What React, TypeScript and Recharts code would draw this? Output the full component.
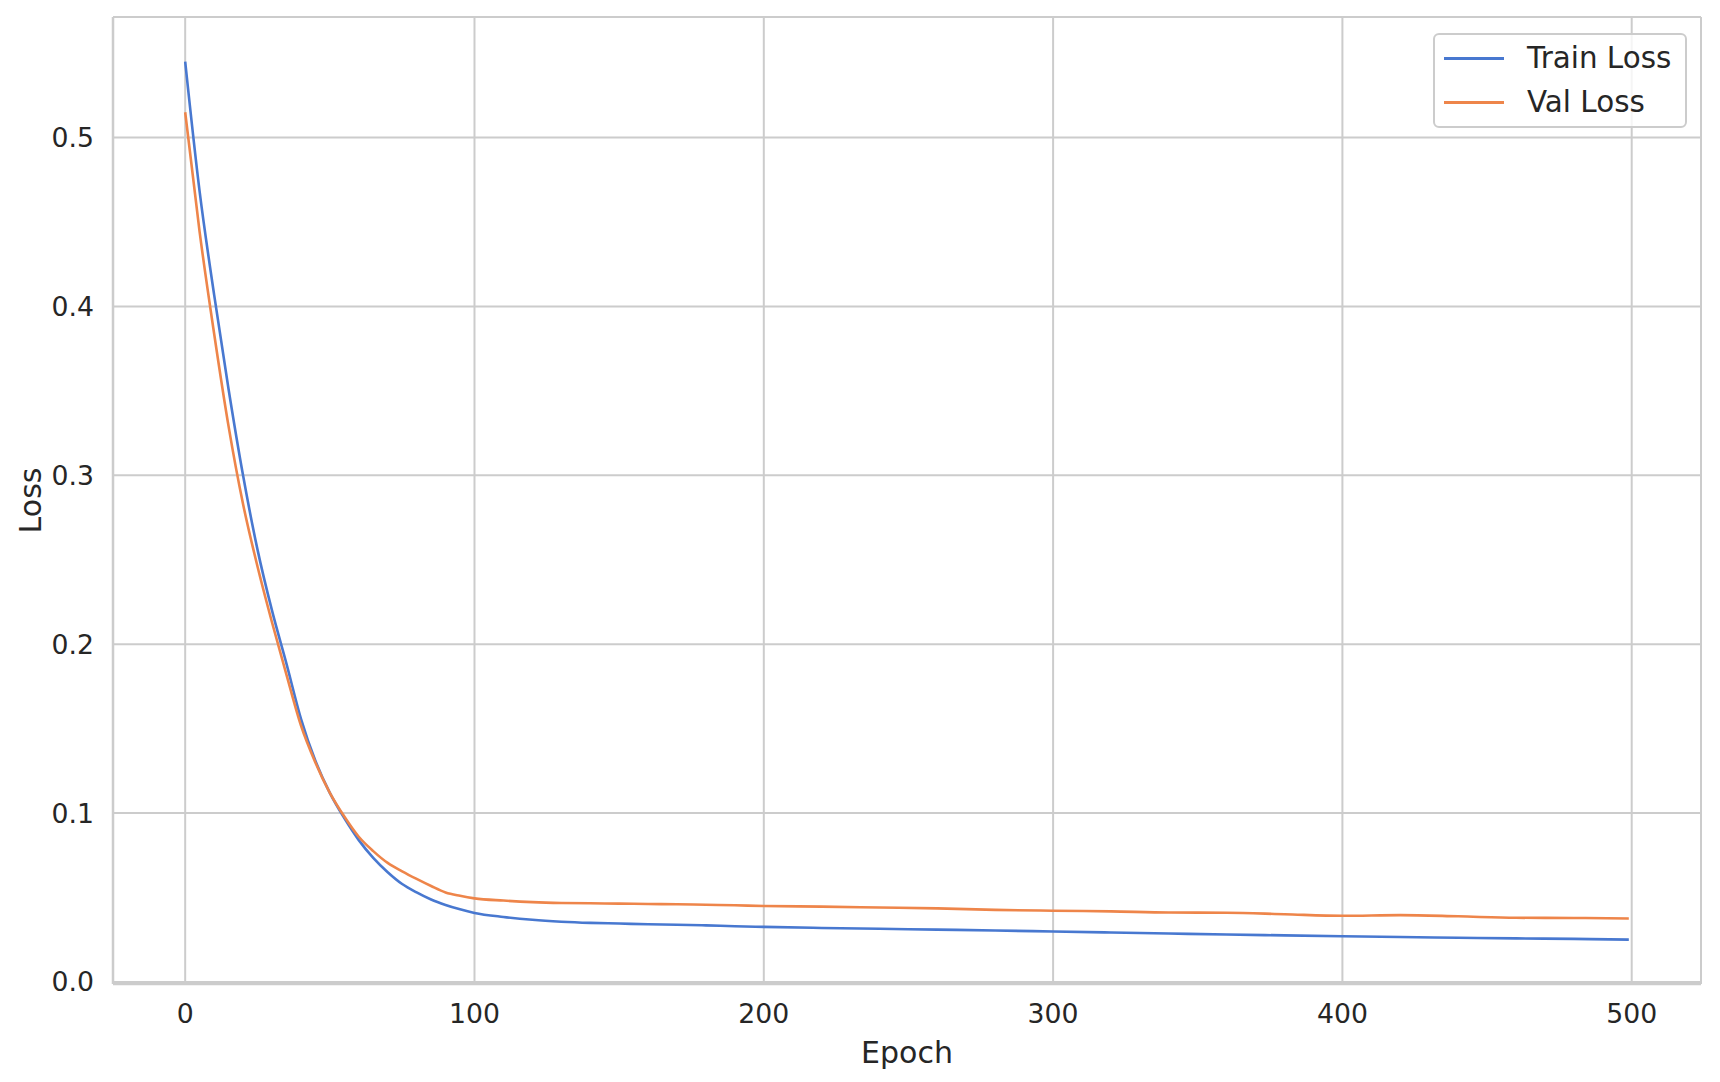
import React from 'react'
import {
    LineChart,
    Line,
    XAxis,
    YAxis,
    CartesianGrid,
    Legend,
} from 'recharts'

// epochs sampled from the curve (denser where it falls fast)
const epochs = [
    0, 5, 10, 15, 20, 25, 30, 35, 40, 45, 50, 55, 60, 65, 70, 75, 80, 85, 90, 95, 100,
    110, 120, 130, 140, 150, 160, 170, 180, 190, 200,
    220, 240, 260, 280, 300, 320, 340, 360, 380, 400, 420, 440, 460, 480, 499,
]

const trainLoss = [
    0.545, 0.468, 0.407, 0.351, 0.300, 0.256, 0.220, 0.1885, 0.156, 0.131, 0.112, 0.097,
    0.084, 0.0735, 0.065, 0.058, 0.053, 0.0488, 0.0456, 0.043, 0.0409,
    0.0385, 0.0368, 0.0357, 0.0350, 0.0346, 0.0342, 0.0339, 0.0335, 0.0330, 0.0326,
    0.0320, 0.0315, 0.0310, 0.0305, 0.0299, 0.0293, 0.0287, 0.0281, 0.0276, 0.0271,
    0.0266, 0.0262, 0.0258, 0.0255, 0.0251,
]

const valLoss = [
    0.515, 0.444, 0.384, 0.329, 0.283, 0.246, 0.213, 0.182, 0.152, 0.130, 0.112, 0.098,
    0.086, 0.0775, 0.0705, 0.0655, 0.061, 0.0568, 0.053, 0.051, 0.0495,
    0.0482, 0.0473, 0.0468, 0.0466, 0.0464, 0.0462, 0.0460, 0.0457, 0.0454, 0.0450,
    0.0446, 0.0441, 0.0436, 0.0427, 0.0422, 0.0418, 0.0411, 0.0410, 0.0401, 0.0392,
    0.0396, 0.0389, 0.0380, 0.0379, 0.0376,
]

const xTicks = [0, 100, 200, 300, 400, 500]
const yTicks = [0, 0.1, 0.2, 0.3, 0.4, 0.5]

const data = epochs.map((epoch, i) => ({
    epoch,
    train: trainLoss[i],
    val: valLoss[i],
}))

const FONT = 'DejaVu Sans'
const TEXT = '#262626'
const GRID = '#cccccc'
const xDomain = [-24.95, 523.95]
const yDomain = [-0.0012, 0.5714]

const LegendBox = (props: any) => {
    const payload = props.payload || []
    return (
        <div
            style={{
                position: 'relative',
                width: 254,
                height: 95,
                boxSizing: 'border-box',
                border: `2px solid ${GRID}`,
                borderRadius: 6,
                background: 'rgba(255,255,255,0.8)',
                fontFamily: FONT,
            }}
        >
            {payload.map((p: any, i: number) => (
                <React.Fragment key={p.value}>
                    <div
                        style={{
                            position: 'absolute',
                            left: 9,
                            top: 22 + i * 43.5,
                            width: 60,
                            height: 3,
                            background: p.color,
                        }}
                    />
                    <div
                        style={{
                            position: 'absolute',
                            left: 92,
                            top: 6 + i * 43.5,
                            fontSize: 29.4,
                            lineHeight: '34px',
                            color: TEXT,
                            whiteSpace: 'nowrap',
                        }}
                    >
                        {p.value}
                    </div>
                </React.Fragment>
            ))}
        </div>
    )
}

const App = () => {
    return (
        <div
            style={{
                position: 'absolute',
                left: 0,
                top: 0,
                width: 1720,
                height: 1082,
                background: '#ffffff',
                fontFamily: FONT,
            }}
        >
            <LineChart
                width={1720}
                height={1082}
                data={data}
                margin={{ top: 17, right: 19, left: 0, bottom: 0 }}
            >
                <CartesianGrid stroke={GRID} strokeWidth={2} />
                <XAxis
                    dataKey="epoch"
                    type="number"
                    domain={xDomain}
                    ticks={xTicks}
                    allowDataOverflow
                    height={98}
                    tickSize={0}
                    tickMargin={20}
                    axisLine={{ stroke: GRID, strokeWidth: 2.5 }}
                    tickLine={false}
                    tick={{ fontSize: 26.7, fill: TEXT, fontFamily: FONT }}
                    label={{
                        value: 'Epoch',
                        position: 'insideBottom',
                        offset: 19,
                        fontSize: 30,
                        fill: TEXT,
                        fontFamily: FONT,
                    }}
                />
                <XAxis
                    xAxisId="top"
                    orientation="top"
                    dataKey="epoch"
                    type="number"
                    domain={xDomain}
                    allowDataOverflow
                    height={0}
                    tick={false}
                    tickLine={false}
                    axisLine={{ stroke: GRID, strokeWidth: 2.5 }}
                />
                <YAxis
                    type="number"
                    domain={yDomain}
                    ticks={yTicks}
                    allowDataOverflow
                    width={113}
                    tickSize={0}
                    tickMargin={19}
                    tickFormatter={(v: number) => v.toFixed(1)}
                    axisLine={{ stroke: GRID, strokeWidth: 2.5 }}
                    tickLine={false}
                    tick={{ fontSize: 26.7, fill: TEXT, fontFamily: FONT }}
                    label={{
                        value: 'Loss',
                        angle: -90,
                        position: 'insideLeft',
                        offset: 30,
                        fontSize: 30,
                        fill: TEXT,
                        fontFamily: FONT,
                        style: { textAnchor: 'middle' },
                    }}
                />
                <YAxis
                    yAxisId="right"
                    orientation="right"
                    type="number"
                    domain={yDomain}
                    allowDataOverflow
                    width={0}
                    tick={false}
                    tickLine={false}
                    axisLine={{ stroke: GRID, strokeWidth: 2.5 }}
                />
                <Legend
                    layout="horizontal"
                    verticalAlign="middle"
                    align="center"
                    content={LegendBox}
                    wrapperStyle={{ left: 1433, top: 33, width: 254, height: 95 }}
                />
                <Line
                    type="monotone"
                    dataKey="train"
                    name="Train Loss"
                    stroke="#4878d0"
                    strokeWidth={2.6}
                    dot={false}
                    isAnimationActive={false}
                />
                <Line
                    type="monotone"
                    dataKey="val"
                    name="Val Loss"
                    stroke="#ee854a"
                    strokeWidth={2.6}
                    dot={false}
                    isAnimationActive={false}
                />
            </LineChart>
        </div>
    )
}

export default App
